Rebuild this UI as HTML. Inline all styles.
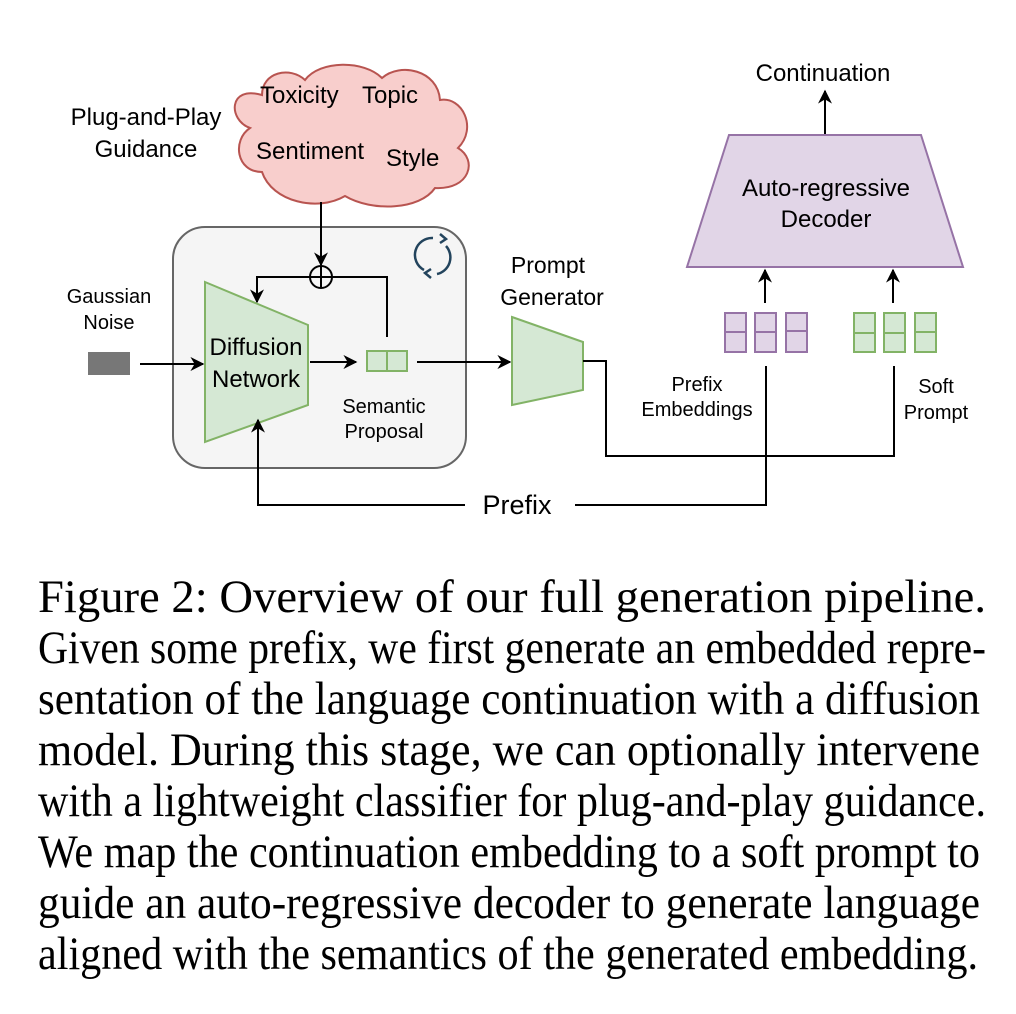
<!DOCTYPE html>
<html><head><meta charset="utf-8"><style>
html,body{margin:0;padding:0;background:#fff;}
svg{display:block;}
.s{font-family:"Liberation Sans",Arial,sans-serif;fill:#000;}
.c{font-family:"Liberation Serif","Times New Roman",serif;font-size:47px;fill:#000;}
</style></head><body>
<svg width="1016" height="1014" viewBox="0 0 1016 1014" xmlns="http://www.w3.org/2000/svg">
<defs>
<marker id="ab" viewBox="0 0 10 10" refX="9" refY="5" markerWidth="14" markerHeight="14" markerUnits="userSpaceOnUse" orient="auto">
<path d="M0,0 L10,5 L0,10 L3,5 z" fill="#000"/></marker>
</defs>
<path d="M262,95 C228,85 228,120 250,128 C232,140 236,172 262,172 C272,202 318,212 345,196 C372,212 420,210 435,188 C470,190 478,160 458,148 C478,128 462,96 440,100 C438,70 400,62 382,78 C364,60 320,60 305,80 C290,66 262,72 262,95 Z" fill="#f8cecc" stroke="#b85450" stroke-width="2"/>
<text class="s" x="260" y="103" font-size="24">Toxicity</text>
<text class="s" x="362" y="103" font-size="24">Topic</text>
<text class="s" x="256" y="159" font-size="24">Sentiment</text>
<text class="s" x="386" y="166" font-size="24">Style</text>
<text class="s" x="146" y="125" font-size="24" text-anchor="middle">Plug-and-Play</text>
<text class="s" x="146" y="157" font-size="24" text-anchor="middle">Guidance</text>
<rect x="173" y="227" width="293" height="241" rx="32" fill="#f5f5f5" stroke="#666" stroke-width="2"/>
<path d="M424,270 A17,17 0 0 1 433,238" fill="none" stroke="#23445d" stroke-width="2.5"/>
<path d="M446,246 A17,17 0 0 1 437,274" fill="none" stroke="#23445d" stroke-width="2.5"/>
<path d="M440,234 L446,239 L440,243" fill="none" stroke="#23445d" stroke-width="2.5"/>
<path d="M431,269 L425,273 L431,278" fill="none" stroke="#23445d" stroke-width="2.5"/>
<line x1="321" y1="202" x2="321" y2="265" stroke="#000" stroke-width="2" marker-end="url(#ab)"/>
<circle cx="321" cy="277" r="11" fill="none" stroke="#000" stroke-width="2"/>
<line x1="310" y1="277" x2="332" y2="277" stroke="#000" stroke-width="2"/>
<line x1="321" y1="266" x2="321" y2="288" stroke="#000" stroke-width="2"/>
<polyline points="387,337 387,277 332,277" fill="none" stroke="#000" stroke-width="2"/>
<polyline points="310,277 257,277 257,302" fill="none" stroke="#000" stroke-width="2" marker-end="url(#ab)"/>
<polygon points="205,282 308,325 308,405 205,442" fill="#d5e8d4" stroke="#82b366" stroke-width="2"/>
<text class="s" x="256" y="355" font-size="24" text-anchor="middle">Diffusion</text>
<text class="s" x="256" y="387" font-size="24" text-anchor="middle">Network</text>
<rect x="88" y="352" width="42" height="23" fill="#777"/>
<text class="s" x="109" y="303" font-size="20" text-anchor="middle">Gaussian</text>
<text class="s" x="109" y="329" font-size="20" text-anchor="middle">Noise</text>
<line x1="140" y1="364" x2="203" y2="364" stroke="#000" stroke-width="2" marker-end="url(#ab)"/>
<line x1="310" y1="362" x2="356" y2="362" stroke="#000" stroke-width="2" marker-end="url(#ab)"/>
<rect x="367" y="351" width="40" height="20" fill="#d5e8d4" stroke="#82b366" stroke-width="2"/>
<line x1="387" y1="351" x2="387" y2="371" stroke="#82b366" stroke-width="2"/>
<text class="s" x="384" y="413" font-size="20" text-anchor="middle">Semantic</text>
<text class="s" x="384" y="438" font-size="20" text-anchor="middle">Proposal</text>
<line x1="417" y1="362" x2="510" y2="362" stroke="#000" stroke-width="2" marker-end="url(#ab)"/>
<polygon points="512,317 583,342 583,390 512,405" fill="#d5e8d4" stroke="#82b366" stroke-width="2"/>
<text class="s" x="548" y="273" font-size="23" text-anchor="middle">Prompt</text>
<text class="s" x="552" y="305" font-size="23" text-anchor="middle">Generator</text>
<polyline points="583,361 606,361 606,456 894,456 894,366" fill="none" stroke="#000" stroke-width="2"/>
<polyline points="766,366 766,505 575,505" fill="none" stroke="#000" stroke-width="2"/>
<polyline points="465,505 258,505 258,420" fill="none" stroke="#000" stroke-width="2" marker-end="url(#ab)"/>
<text class="s" x="517" y="514" font-size="27" text-anchor="middle">Prefix</text>
<polygon points="729,135 921,135 963,267 687,267" fill="#e1d5e7" stroke="#9673a6" stroke-width="2"/>
<text class="s" x="826" y="196" font-size="24" text-anchor="middle">Auto-regressive</text>
<text class="s" x="826" y="227" font-size="24" text-anchor="middle">Decoder</text>
<line x1="825" y1="134" x2="825" y2="91" stroke="#000" stroke-width="2" marker-end="url(#ab)"/>
<text class="s" x="823" y="81" font-size="24" text-anchor="middle">Continuation</text>
<line x1="765" y1="303" x2="765" y2="270" stroke="#000" stroke-width="2" marker-end="url(#ab)"/>
<line x1="893" y1="303" x2="893" y2="270" stroke="#000" stroke-width="2" marker-end="url(#ab)"/>
<g fill="#e1d5e7" stroke="#9673a6" stroke-width="2">
<rect x="725" y="313" width="21" height="39"/><line x1="725" y1="332" x2="746" y2="332"/>
<rect x="755" y="313" width="21" height="39"/><line x1="755" y1="332" x2="776" y2="332"/>
<rect x="786" y="313" width="21" height="39"/><line x1="786" y1="331" x2="807" y2="331"/>
</g>
<g fill="#d5e8d4" stroke="#82b366" stroke-width="2">
<rect x="854" y="313" width="21" height="39"/><line x1="854" y1="333" x2="875" y2="333"/>
<rect x="884" y="313" width="21" height="39"/><line x1="884" y1="333" x2="905" y2="333"/>
<rect x="915" y="313" width="21" height="39"/><line x1="915" y1="332" x2="936" y2="332"/>
</g>
<text class="s" x="697" y="391" font-size="20" text-anchor="middle">Prefix</text>
<text class="s" x="697" y="416" font-size="20" text-anchor="middle">Embeddings</text>
<text class="s" x="936" y="393" font-size="20" text-anchor="middle">Soft</text>
<text class="s" x="936" y="419" font-size="20" text-anchor="middle">Prompt</text>
<text class="c" x="38" y="612" textLength="948" lengthAdjust="spacingAndGlyphs">Figure 2:  Overview of our full generation pipeline.</text>
<text class="c" x="38" y="663" textLength="948" lengthAdjust="spacingAndGlyphs">Given some prefix, we first generate an embedded repre-</text>
<text class="c" x="38" y="714" textLength="942" lengthAdjust="spacingAndGlyphs">sentation of the language continuation with a diffusion</text>
<text class="c" x="38" y="765" textLength="942" lengthAdjust="spacingAndGlyphs">model. During this stage, we can optionally intervene</text>
<text class="c" x="38" y="816" textLength="948" lengthAdjust="spacingAndGlyphs">with a lightweight classifier for plug-and-play guidance.</text>
<text class="c" x="38" y="867" textLength="942" lengthAdjust="spacingAndGlyphs">We map the continuation embedding to a soft prompt to</text>
<text class="c" x="38" y="918" textLength="942" lengthAdjust="spacingAndGlyphs">guide an auto-regressive decoder to generate language</text>
<text class="c" x="38" y="969" textLength="940" lengthAdjust="spacingAndGlyphs">aligned with the semantics of the generated embedding.</text>
</svg>
</body></html>
